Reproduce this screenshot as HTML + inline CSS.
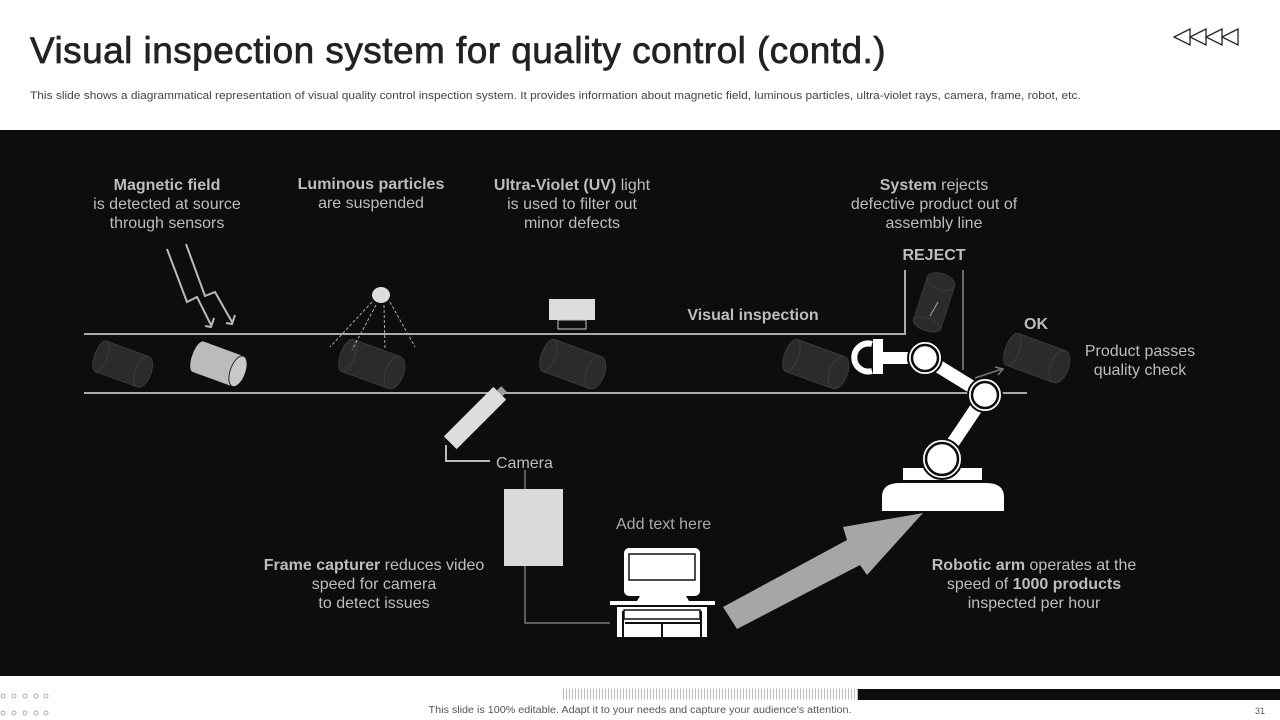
<!DOCTYPE html>
<html><head><meta charset="utf-8"><style>
body{margin:0;width:1280px;height:720px;overflow:hidden;background:#fff;font-family:"Liberation Sans",sans-serif;position:relative}
h1{position:absolute;left:30px;top:30px;margin:0;font-size:37px;font-weight:normal;color:#222;letter-spacing:0.45px;font-family:"Liberation Sans",sans-serif;-webkit-text-stroke:0.7px #222;white-space:nowrap}
.sub{position:absolute;left:30px;top:90px;font-size:11px;color:#444;white-space:nowrap;transform:scaleX(1.085);transform-origin:left}
svg{position:absolute;left:0;top:0}
.t{fill:#bdbdbd;font-size:16px;font-family:"Liberation Sans",sans-serif}
.b{font-weight:bold}
</style></head><body>
<h1>Visual inspection system for quality control (contd.)</h1>
<div class="sub">This slide shows a diagrammatical representation of visual quality control inspection system. It provides information about magnetic field, luminous particles, ultra-violet rays, camera, frame, robot, etc.</div>
<svg width="1280" height="720" viewBox="0 0 1280 720">
<defs>
<g id="cyl">
<rect x="-25" y="-17" width="50" height="34" fill="#2b2b2b" stroke="#3c3c3c"/>
<ellipse cx="-25" cy="0" rx="7" ry="17" fill="#2b2b2b" stroke="#3c3c3c"/>
<ellipse cx="25" cy="0" rx="9" ry="17" fill="#2b2b2b" stroke="#3c3c3c"/>
</g>
</defs>
<g fill="none" stroke="#222" stroke-width="1.3">
<path d="M1190 29 L1174 37 L1190 45 Z M1206 29 L1190 37 L1206 45 Z M1222 29 L1206 37 L1222 45 Z M1238 29 L1222 37 L1238 45 Z"/>
</g>
<rect x="0" y="130" width="1280" height="546" fill="#0d0d0d"/>
<g stroke="#aaa" stroke-width="2" fill="none">
<path d="M84 334 H905 V270"/>
<path d="M84 393 H1027"/>
</g>
<line x1="963" y1="270" x2="963" y2="370" stroke="#888" stroke-width="1.5"/>
<use href="#cyl" transform="translate(122,364) rotate(20) scale(0.9,0.95)"/>
<g transform="translate(218,364) rotate(20) scale(0.85,0.95)">
<rect x="-25" y="-17" width="50" height="34" fill="#bbb"/>
<ellipse cx="-25" cy="0" rx="7" ry="17" fill="#bbb"/>
<ellipse cx="25" cy="0" rx="9" ry="17" fill="#c8c8c8" stroke="#111"/>
</g>
<use href="#cyl" transform="translate(371,364) rotate(20)"/>
<use href="#cyl" transform="translate(572,364) rotate(20)"/>
<use href="#cyl" transform="translate(815,364) rotate(20)"/>
<use href="#cyl" transform="translate(1036,358) rotate(20)"/>
<use href="#cyl" transform="translate(934,303) rotate(-72) scale(0.9,0.85)"/>
<line x1="930" y1="316" x2="938" y2="302" stroke="#999" stroke-width="1.2"/>
<g stroke="#bbb" stroke-width="2" fill="none">
<path d="M167 249 L187 302 L197 297 L211 325"/>
<path d="M205 326 L211 327 L214 318"/>
<path d="M186 244 L205 296 L215 292 L232 322"/>
<path d="M226 323 L232 324 L235 315"/>
</g>
<ellipse cx="381" cy="295" rx="9" ry="8" fill="#ddd"/>
<g stroke="#aaa" stroke-width="1" stroke-dasharray="3,2">
<line x1="372" y1="302" x2="330" y2="347"/>
<line x1="376" y1="305" x2="352" y2="350"/>
<line x1="384" y1="305" x2="385" y2="350"/>
<line x1="390" y1="302" x2="415" y2="347"/>
</g>
<rect x="549" y="299" width="46" height="21" fill="#ddd"/>
<rect x="558" y="320" width="28" height="9" fill="none" stroke="#ccc" stroke-width="1"/>
<g transform="translate(475,418) rotate(-45)">
<rect x="-35" y="-9" width="70" height="18" fill="#ddd"/>
<rect x="35" y="-4" width="6" height="8" fill="#999"/>
</g>
<path d="M446 445 V461 H490" stroke="#bbb" stroke-width="2" fill="none"/>
<text class="t" x="496" y="468">Camera</text>
<rect x="504" y="489" width="59" height="77" fill="#d9d9d9"/>
<path d="M525 470 V489 M525 566 V623 H610" stroke="#777" stroke-width="1.5" fill="none"/>
<rect x="624" y="548" width="76" height="48" rx="5" fill="#fff"/>
<rect x="629" y="554" width="66" height="26" fill="#fff" stroke="#111" stroke-width="1.5"/>
<path d="M637 601 L640 596 H686 L689 601 Z" fill="#fff"/>
<rect x="610" y="601" width="105" height="4" fill="#fff"/>
<rect x="617" y="607" width="90" height="30" fill="#fff"/>
<rect x="624" y="610" width="76" height="9" fill="#fff" stroke="#111" stroke-width="1.5"/>
<path d="M625 623 H700 M662 623 V637 M623 611 V637 M701 611 V637" stroke="#111" stroke-width="2"/>
<text class="t" x="616" y="529" style="fill:#aaa">Add text here</text>
<polygon points="723,607 847,540 843,527 923,513 867,575 860,565 737,629" fill="#a6a6a6"/>
<path d="M882 511 V497 Q882 483 900 483 H986 Q1004 483 1004 497 V511 Z" fill="#fff"/>
<rect x="903" y="468" width="79" height="12" fill="#fff"/>
<g stroke="#fff" stroke-width="13" stroke-linecap="round">
<line x1="942" y1="459" x2="985" y2="395"/>
<line x1="985" y1="395" x2="925" y2="358"/>
</g>
<line x1="925" y1="358" x2="880" y2="358" stroke="#fff" stroke-width="12"/>
<rect x="873" y="339" width="10" height="35" fill="#fff"/>
<path d="M872 344 A14 14 0 1 0 872 371" stroke="#fff" stroke-width="6" fill="none"/>
<g fill="#fff" stroke="#0d0d0d" stroke-width="2">
<circle cx="942" cy="459" r="20"/><circle cx="942" cy="459" r="16" stroke-width="2.5"/>
<circle cx="985" cy="395" r="17"/><circle cx="985" cy="395" r="13" stroke-width="2.5"/>
<circle cx="925" cy="358" r="17"/><circle cx="925" cy="358" r="13" stroke-width="2.5"/>
</g>
<path d="M975 378 L1002 369 M995 367 L1003 369 L998 375" stroke="#777" stroke-width="1.5" fill="none"/>
<g class="t" text-anchor="middle">
<text x="167" y="190"><tspan class="b">Magnetic field</tspan></text>
<text x="167" y="209">is detected at source</text>
<text x="167" y="228">through sensors</text>
<text x="371" y="189" class="b">Luminous particles</text>
<text x="371" y="208">are suspended</text>
<text x="572" y="190"><tspan class="b">Ultra-Violet (UV)</tspan> light</text>
<text x="572" y="209">is used to filter out</text>
<text x="572" y="228">minor defects</text>
<text x="934" y="190"><tspan class="b">System</tspan> rejects</text>
<text x="934" y="209">defective product out of</text>
<text x="934" y="228">assembly line</text>
<text x="934" y="260" class="b">REJECT</text>
<text x="753" y="320" class="b">Visual inspection</text>
<text x="1036" y="329" class="b">OK</text>
<text x="1140" y="356">Product passes</text>
<text x="1140" y="375">quality check</text>
<text x="374" y="570"><tspan class="b">Frame capturer</tspan> reduces video</text>
<text x="374" y="589">speed for camera</text>
<text x="374" y="608">to detect issues</text>
<text x="1034" y="570"><tspan class="b">Robotic arm</tspan> operates at the</text>
<text x="1034" y="589">speed of <tspan class="b">1000 products</tspan></text>
<text x="1034" y="608">inspected per hour</text>
</g>
<g fill="none" stroke="#999" stroke-width="0.8">
<circle cx="3" cy="696" r="2"/><circle cx="14" cy="696" r="2"/><circle cx="25" cy="696" r="2"/><circle cx="36" cy="696" r="2"/><circle cx="46" cy="696" r="2"/>
<circle cx="3" cy="713" r="2"/><circle cx="14" cy="713" r="2"/><circle cx="25" cy="713" r="2"/><circle cx="36" cy="713" r="2"/><circle cx="46" cy="713" r="2"/>
</g>
<path d="M563 694 H858" stroke="#bbb" stroke-width="11" stroke-dasharray="1,2"/>
<rect x="858" y="689" width="422" height="11" fill="#0d0d0d"/>
<text x="640" y="713" text-anchor="middle" style="font-size:10px;fill:#555" textLength="423" lengthAdjust="spacingAndGlyphs">This slide is 100% editable. Adapt it to your needs and capture your audience's attention.</text>
<text x="1260" y="714" text-anchor="middle" style="font-size:9px;fill:#555">31</text>
</svg>
</body></html>
